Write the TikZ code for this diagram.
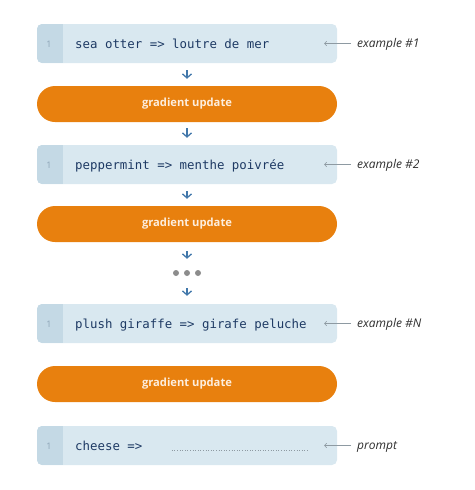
\documentclass[tikz,border=0pt]{standalone}
\usepackage{fontspec}
\setmainfont{Open Sans}
\setmonofont{DejaVu Sans Mono}
\usetikzlibrary{arrows.meta,calc}

\definecolor{boxblue}{HTML}{D9E8F0}
\definecolor{stripblue}{HTML}{C4D9E5}
\definecolor{codeblue}{HTML}{1E3A64}
\definecolor{numgray}{HTML}{8CA4B6}
\definecolor{pillorange}{HTML}{E8800E}
\definecolor{pilltext}{HTML}{FDEEDD}
\definecolor{flowblue}{HTML}{4177AA}
\definecolor{pointgray}{HTML}{8E9AA2}
\definecolor{labelgray}{HTML}{2E2E2E}
\definecolor{dotgray}{HTML}{8C8C8C}

\tikzset{
  codebox/.style={draw=none, fill=boxblue, rounded corners=5pt,
    minimum width=300pt, minimum height=39pt, inner sep=0pt,
    path picture={\fill[stripblue, sharp corners] (path picture bounding box.south west)
      rectangle ([xshift=26pt]path picture bounding box.north west);}},
  linenum/.style={anchor=base, text=numgray, inner sep=0pt,
    font=\fontsize{9}{11}\selectfont},
  codetext/.style={anchor=base west, text=codeblue, inner sep=0pt,
    font=\ttfamily\fontsize{12.4}{14}\selectfont},
  pill/.style={fill=pillorange, rounded corners=18pt, minimum width=300pt,
    minimum height=36pt, inner sep=0pt, text=pilltext,
    font=\bfseries\fontsize{11.2}{13}\selectfont},
  sidelabel/.style={anchor=base west, inner sep=0pt, text=labelgray,
    font=\itshape\fontsize{12}{14}\selectfont},
  flow/.style={flowblue, line width=1.3pt, -{Straight Barb[length=4pt,width=9pt]}},
  pointer/.style={pointgray, line width=0.6pt, -{Straight Barb[length=2pt,width=4.5pt]}},
  answerline/.style={pointgray, line width=0.6pt, dotted},
}

\begin{document}
\begin{tikzpicture}[x=1pt, y=-1pt]

    %% Background
    \useasboundingbox (0,0) rectangle (474,490);

    % Code boxes
    \node[codebox] (ex1) at (187,43.5) {};
    \node[codebox] (ex2) at (187,164.5) {};
    \node[codebox] (ex3) at (187,323.5) {};
    \node[codebox] (prm) at (187,445.5) {};

    \node[linenum] (n1) at (49,47.5) {1};
    \node[linenum] (n2) at (49,168.5) {1};
    \node[linenum] (n3) at (49,327.5) {1};
    \node[linenum] (n4) at (49,449.5) {1};

    \node[codetext] (c1) at (75,48.5) {sea otter => loutre de mer};
    \node[codetext] (c2) at (75,169.5) {peppermint => menthe poivrée};
    \node[codetext] (c3) at (75,328.5) {plush giraffe => girafe peluche};
    \node[codetext] (c4) at (75,450.5) {cheese =>};
    \draw[answerline] ($(prm.west)+(135,4.5)$) -- ($(prm.west)+(271,4.5)$);

    % Gradient updates
    \node[pill] (gu1) at (187,104) {gradient update};
    \node[pill] (gu2) at (187,224) {gradient update};
    \node[pill] (gu3) at (187,384) {gradient update};

    % Dots
    \node[minimum width=30pt, minimum height=6pt, inner sep=0pt] (dots) at (187,273) {};
    \foreach \dx in {-11,0,11}
    {
    \fill[dotgray] ($(dots)+(\dx,0)$) circle (3pt);
    }

    % Flow
    \draw[flow, shorten <=7pt, shorten >=7pt] (ex1) -- (gu1);
    \draw[flow, shorten <=6pt, shorten >=7pt] (gu1) -- (ex2);
    \draw[flow, shorten <=7pt, shorten >=7pt] (ex2) -- (gu2);
    \draw[flow, shorten <=9pt, shorten >=11pt] (gu2) -- (dots);
    \draw[flow, shorten <=12pt, shorten >=8pt] (dots) -- (ex3);

    % Labels
    \node[sidelabel] (l1) at (357,47.5) {example \#1};
    \node[sidelabel] (l2) at (357,168.5) {example \#2};
    \node[sidelabel] (l3) at (357,327.5) {example \#N};
    \node[sidelabel] (l4) at (357,449.5) {prompt};

    \draw[pointer] ($(ex1.east)+(14,0)$) -- ($(ex1.east)+(-13,0)$);
    \draw[pointer] ($(ex2.east)+(14,0)$) -- ($(ex2.east)+(-13,0)$);
    \draw[pointer] ($(ex3.east)+(14,0)$) -- ($(ex3.east)+(-13,0)$);
    \draw[pointer] ($(prm.east)+(14,0)$) -- ($(prm.east)+(-13,0)$);

\end{tikzpicture}
\end{document}
